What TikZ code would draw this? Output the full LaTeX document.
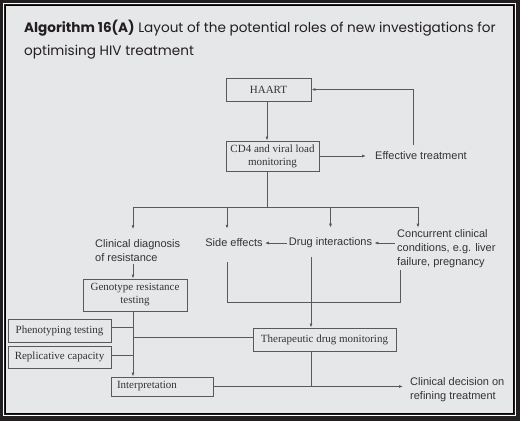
\documentclass[tikz,border=0pt]{standalone}
\usepackage{fontspec}
\setmainfont{Liberation Sans}
\newfontfamily\serifbox{Liberation Serif}
\newfontfamily\headfont{Poppins}
\usetikzlibrary{arrows.meta}
\definecolor{framecol}{HTML}{231F20}
\definecolor{panel}{HTML}{E6E7E8}
\definecolor{ink}{HTML}{333333}
\definecolor{linecol}{HTML}{58595B}
\tikzset{
  box/.style={draw=linecol, line width=0.8pt, font=\serifbox\fontsize{11}{13}\selectfont,
    text=ink, align=center, inner sep=2pt},
  lbl/.style={font=\fontsize{11}{14}\selectfont, text=ink, inner sep=2pt},
  wire/.style={draw=linecol, line width=0.8pt},
  arr/.style={wire, -{Latex[length=4pt,width=3pt]}},
  tap/.style={arr, shorten >=8pt}
}
\begin{document}
\begin{tikzpicture}[x=1pt,y=-1pt]
  % frame and panel
  \fill[framecol] (0,0) rectangle (520,421);
  \draw[white, line width=1.2pt] (3.5,3.5) rectangle (515.5,415.5);
  \filldraw[fill=panel, draw=black, line width=1pt] (5,5) rectangle (513,413.5);
  % heading
  \node[anchor=base west, font=\headfont\fontsize{13.6}{15}\selectfont, text=framecol,
    inner sep=0] (head) at (24,32)
    {\textbf{Algorithm 16(A)} Layout of the potential roles of new investigations for};
  \node[anchor=base west, font=\headfont\fontsize{13.6}{15}\selectfont, text=framecol,
    inner sep=0] (headb) at (24,55) {optimising HIV treatment};
  % boxes
  \node[box, minimum width=85, minimum height=23] (haart) at (268.5,89.5) {HAART};
  \node[box, minimum width=93, minimum height=30] (cdfour) at (272.5,156)
    {CD4 and viral load\\monitoring};
  \node[box, minimum width=104, minimum height=32] (geno) at (135,295)
    {Genotype resistance\\testing};
  \node[box, minimum width=103, minimum height=23] (pheno) at (59.5,330.5) {Phenotyping testing};
  \node[box, minimum width=103, minimum height=22] (repli) at (59.5,357) {Replicative capacity};
  \node[box, minimum width=143, minimum height=23] (tdm) at (324.5,339.5)
    {Therapeutic drug monitoring};
  \node[box, text width=90, align=left, inner xsep=6, minimum height=19] (interp)
    at (162,386.5) {Interpretation};
  % plain labels
  \node[lbl, anchor=west] (effective) at (373,156) {Effective treatment};
  \node[lbl, anchor=west, align=left] (clindiag) at (93,250.5) {Clinical diagnosis\\of resistance};
  \node[lbl] (side) at (234,243) {Side effects};
  \node[lbl] (druginter) at (330.5,243) {Drug interactions};
  \node[lbl, anchor=west, align=left] (concur) at (395,249)
    {Concurrent clinical\\conditions, e.g. liver\\failure, pregnancy};
  \node[lbl, anchor=west, align=left] (decision) at (408,390)
    {Clinical decision on\\refining treatment};
  % junctions
  \coordinate (stem) at (267,120);
  \coordinate (fb) at (413,145);
  \coordinate (busL) at (133,207);
  \coordinate (busR) at (418,207);
  \coordinate (joinL) at (227,302);
  \coordinate (joinM) at (311,302);
  \coordinate (joinR) at (400,302);
  % connectors
  \draw[arr] (stem |- haart.south) -- (stem |- cdfour.north);
  \draw[arr, shorten >=7pt] (cdfour.east) -- (effective.west);
  \draw[arr] (fb) |- (haart.east);
  \draw[wire] (stem |- cdfour.south) -- (stem |- busL);
  \draw[wire] (busL) -- (busR);
  \draw[tap] (busL) -- (busL |- clindiag.north);
  \draw[tap] (joinL |- busL) -- (joinL |- side.north);
  \draw[tap] (druginter.north |- busL) -- (druginter.north);
  \draw[arr] (busR) -- (busR |- concur.north);
  \draw[arr] (druginter.west) -- (side.east);
  \draw[arr] (concur.west |- druginter.east) -- (druginter.east);
  \draw[arr] (busL |- clindiag.south) -- (busL |- geno.north);
  \draw[arr] (busL |- geno.south) -- (busL |- interp.north);
  \draw[wire] ([yshift=3pt]pheno.east) -- ([yshift=3pt]pheno.east -| busL);
  \draw[wire] ([yshift=2pt]repli.east) -- ([yshift=2pt]repli.east -| busL);
  \draw[wire] ([yshift=2pt]tdm.west) -- ([yshift=2pt]tdm.west -| busL);
  \draw[wire, shorten <=13pt] (joinL |- side.south) -- (joinL) -- (joinR) -- (joinR |- concur.south);
  \draw[arr, shorten <=7pt] (joinM |- druginter.south) -- (joinM |- tdm.north);
  \draw[wire] (joinM |- tdm.south) -- (joinM |- interp.east);
  \draw[arr, shorten >=5pt] (interp.east) -- (interp.east -| decision.west);
\end{tikzpicture}
\end{document}
